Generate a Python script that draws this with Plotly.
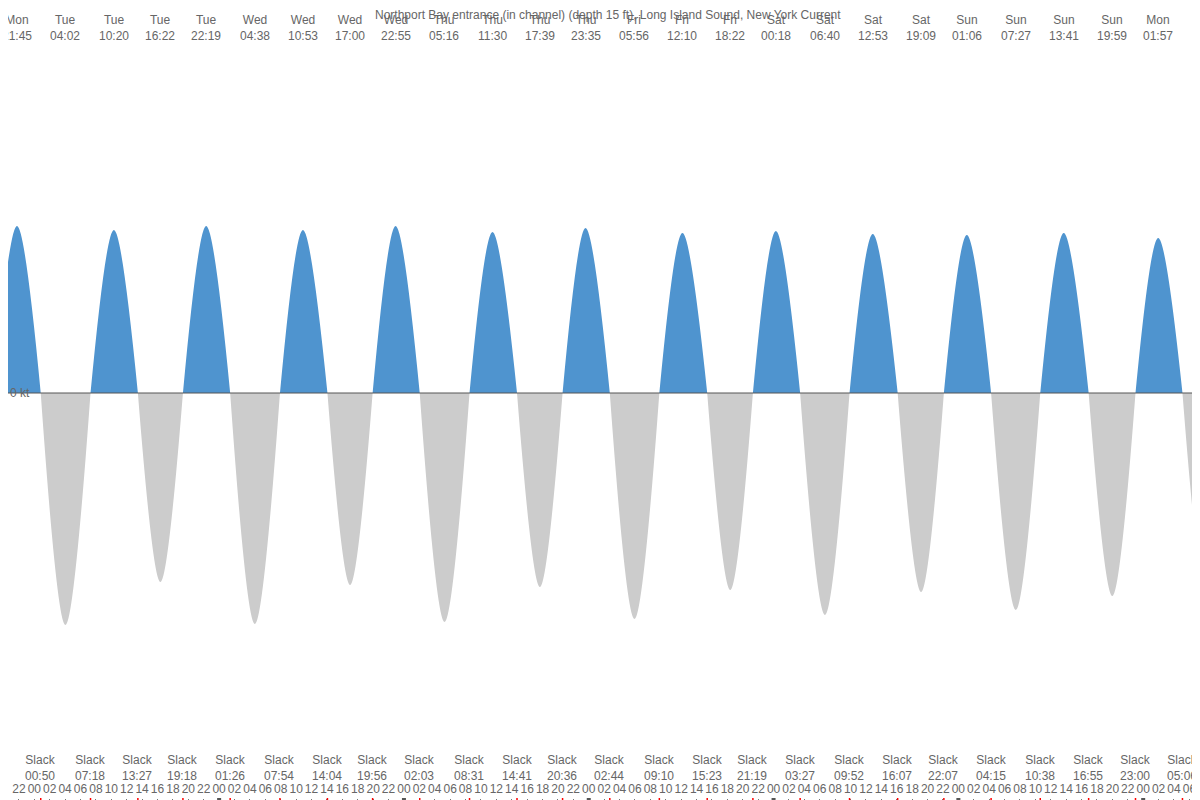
import pandas as pd
import plotly.graph_objects as go

# Current extremes (time, knots); week starts Mon 2024-01-01
ext_times = ["2024-01-01 21:45", "2024-01-02 04:02", "2024-01-02 10:20", "2024-01-02 16:22",
             "2024-01-02 22:19", "2024-01-03 04:38", "2024-01-03 10:53", "2024-01-03 17:00",
             "2024-01-03 22:55", "2024-01-04 05:16", "2024-01-04 11:30", "2024-01-04 17:39",
             "2024-01-04 23:35", "2024-01-05 05:56", "2024-01-05 12:10", "2024-01-05 18:22",
             "2024-01-06 00:18", "2024-01-06 06:40", "2024-01-06 12:53", "2024-01-06 19:09",
             "2024-01-07 01:06", "2024-01-07 07:27", "2024-01-07 13:41", "2024-01-07 19:59",
             "2024-01-08 01:57", "2024-01-08 08:16"]
ext_values = [1.67, -2.32, 1.63, -1.89, 1.67, -2.31, 1.63, -1.92, 1.67, -2.29, 1.61, -1.94,
              1.65, -2.26, 1.60, -1.97, 1.62, -2.22, 1.59, -1.99, 1.58, -2.17, 1.60, -2.03,
              1.55, -2.10]
slack_times = ["2024-01-01 18:42", "2024-01-02 00:50", "2024-01-02 07:18", "2024-01-02 13:27",
               "2024-01-02 19:18", "2024-01-03 01:26", "2024-01-03 07:54", "2024-01-03 14:04",
               "2024-01-03 19:56", "2024-01-04 02:03", "2024-01-04 08:31", "2024-01-04 14:41",
               "2024-01-04 20:36", "2024-01-05 02:44", "2024-01-05 09:10", "2024-01-05 15:23",
               "2024-01-05 21:19", "2024-01-06 03:27", "2024-01-06 09:52", "2024-01-06 16:07",
               "2024-01-06 22:07", "2024-01-07 04:15", "2024-01-07 10:38", "2024-01-07 16:55",
               "2024-01-07 23:00", "2024-01-08 05:06", "2024-01-08 11:20"]

ext_t = pd.to_datetime(ext_times)
slack_t = pd.to_datetime(slack_times)
x_start = pd.Timestamp("2024-01-01 20:35")
x_end = pd.Timestamp("2024-01-08 08:25")

GREY = "#666666"
FONT = "Liberation Sans"

fig = go.Figure()
# one half-cycle per extreme: slack -> extreme -> slack
for fill, sign in (("#4f94cf", 1), ("#cccccc", -1)):
    xs, ys = [], []
    for i, (t, v) in enumerate(zip(ext_t, ext_values)):
        if (v > 0) != (sign > 0):
            continue
        xs += [slack_t[i], t, slack_t[i + 1], None]
        ys += [0, v, 0, None]
    fig.add_trace(go.Scatter(x=xs, y=ys, mode="lines", line=dict(shape="spline", width=0, color=fill),
                             fill="tozeroy", fillcolor=fill, connectgaps=False, hoverinfo="skip"))

fig.add_hline(y=0, line=dict(color="#555555", width=1))

ann = [dict(text="0 kt", x=0, xref="paper", y=0, yref="y", xanchor="left", yanchor="middle",
            showarrow=False, font=dict(size=12, color=GREY))]
ann.append(dict(text="Northport Bay entrance (in channel) (depth 15 ft), Long Island Sound, New York Current",
                x=0.5, xref="paper", y=1, yref="paper", yanchor="top", yshift=2, showarrow=False,
                font=dict(size=12, color=GREY)))
for t in ext_t:
    ann.append(dict(text=t.strftime("%a<br>%H:%M"), x=t, y=1, yref="paper", yanchor="top", yshift=-3,
                    showarrow=False, font=dict(size=12, color=GREY), align="center"))
for t in slack_t:
    ann.append(dict(text="Slack<br>" + t.strftime("%H:%M"), x=t, y=0, yref="paper", yanchor="bottom",
                    yshift=13, showarrow=False, font=dict(size=12, color=GREY), align="center"))

shapes = []
for d in pd.date_range("2024-01-02", "2024-01-08", freq="D"):
    shapes.append(dict(type="line", x0=d, x1=d, xref="x", y0=-0.0127, y1=0, yref="paper",
                       line=dict(color="#555555", width=4)))
for t in slack_t:
    shapes.append(dict(type="line", x0=t, x1=t, xref="x", y0=-0.0127, y1=0, yref="paper",
                       line=dict(color="red", width=1.5)))

ticks = pd.date_range("2024-01-01 20:00", "2024-01-08 08:00", freq="2h")
fig.update_layout(
    width=1200, height=800, margin=dict(l=0, r=0, t=0, b=10),
    plot_bgcolor="white", paper_bgcolor="white", showlegend=False,
    font=dict(family=FONT, color=GREY, size=12),
    annotations=ann, shapes=shapes,
    xaxis=dict(range=[x_start, x_end], tickvals=list(ticks), ticktext=[t.strftime("%H") for t in ticks],
               ticks="outside", ticklen=10, tickcolor="#777777", tickwidth=1, tickangle=0,
               ticklabelposition="inside", showgrid=False, zeroline=False, showline=False,
               tickfont=dict(size=12, color=GREY)),
    yaxis=dict(range=[-4.05, 3.85], visible=False, showgrid=False, zeroline=False),
)

fig.write_html("out.html")
